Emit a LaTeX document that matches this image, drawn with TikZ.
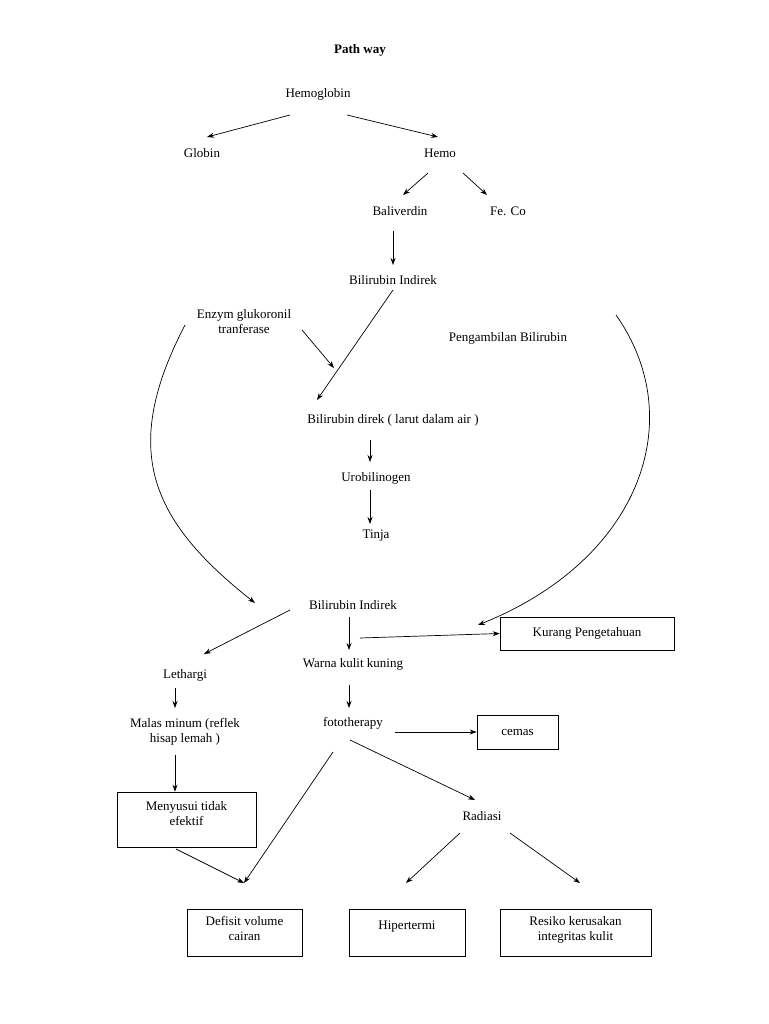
\documentclass[tikz,border=0pt]{standalone}
\usepackage{fontspec}
\setmainfont{Liberation Serif}
\usetikzlibrary{arrows.meta}
\begin{document}
\begin{tikzpicture}[x=1pt,y=-1pt,
  t/.style={font=\fontsize{13}{15}\selectfont,align=center,inner sep=1pt},
  bx/.style={t,draw,line width=0.7pt},
  ar/.style={-{Stealth[length=7pt,width=5pt]},line width=0.7pt}]
\useasboundingbox (0,0) rectangle (768,1024);
\node[t,font=\fontsize{13}{15}\selectfont\bfseries] (pw) at (360,50) {Path way};
\node[t] (hb) at (318,94) {Hemoglobin};
\node[t] (gl) at (202,153) {Globin};
\node[t] (he) at (440,153) {Hemo};
\node[t] (bv) at (400,211) {Baliverdin};
\node[t] (fe) at (508,211) {Fe. Co};
\node[t] (bi) at (393,280) {Bilirubin Indirek};
\node[t] (en) at (244,322) {Enzym glukoronil\\tranferase};
\node[t] (pb) at (508,338) {Pengambilan Bilirubin};
\node[t] (bd) at (393,420) {Bilirubin direk ( larut dalam air )};
\node[t] (ur) at (376,478) {Urobilinogen};
\node[t] (ti) at (376,536) {Tinja};
\node[t] (bi2) at (353,605) {Bilirubin Indirek};
\node[bx,minimum width=174pt,minimum height=33pt] (kp) at (587,633.5) {Kurang Pengetahuan};
\node[t] (le) at (185,675) {Lethargi};
\node[t] (wk) at (353,664) {Warna kulit kuning};
\node[t] (mm) at (185,732) {Malas minum (reflek\\hisap lemah )};
\node[t] (fo) at (353,723) {fototherapy};
\node[bx,minimum width=81pt,minimum height=34pt] (ce) at (517.5,732) {cemas};
\node[bx,minimum width=139pt,minimum height=55pt,text depth=12pt] (me) at (186.5,819.5) {Menyusui tidak\\efektif};
\node[t] (ra) at (482,816) {Radiasi};
\node[bx,minimum width=115pt,minimum height=47pt,text depth=8pt] (de) at (244.5,932.5) {Defisit volume\\cairan};
\node[bx,minimum width=116pt,minimum height=47pt,text depth=14pt] (hi) at (407,932.5) {Hipertermi};
\node[bx,minimum width=151pt,minimum height=47pt,text depth=8pt] (re) at (575.5,932.5) {Resiko kerusakan\\integritas kulit};
\coordinate (c1) at (244,883);
\coordinate (c2) at (406,883);
\coordinate (c3) at (580,883);
\draw[ar] (290,115) -- (207,137);
\draw[ar] (347,115) -- (438,137);
\draw[ar] (428,173) -- (403,195);
\draw[ar] (463,173) -- (487,195);
\draw[ar] (393,231) -- (393,265);
\draw[ar] (393,290) -- (317,400);
\draw[ar] (302,330) -- (334,368);
\draw[ar] (370,440) -- (370,462);
\draw[ar] (370,490) -- (370,524);
\draw[ar] (185,325) .. controls (120,450) and (150,520) .. (255,603);
\draw[ar] (616,315) .. controls (690,420) and (640,560) .. (478,625);
\draw[ar] (290,610) -- (204,654);
\draw[ar] (349,617) -- (349,650);
\draw[ar] (360,638) -- (kp.west);
\draw[ar] (175,688) -- (175,708);
\draw[ar] (349,685) -- (349,708);
\draw[ar] (395,732) -- (ce.west);
\draw[ar] (175,755) -- (me.north -| 175,0);
\draw[ar] (333,752) -- (c1);
\draw[ar] (350,740) -- (475,800);
\draw[ar] (460,833) -- (c2);
\draw[ar] (510,833) -- (c3);
\draw[ar] (176,849) -- (c1);
\end{tikzpicture}
\end{document}
